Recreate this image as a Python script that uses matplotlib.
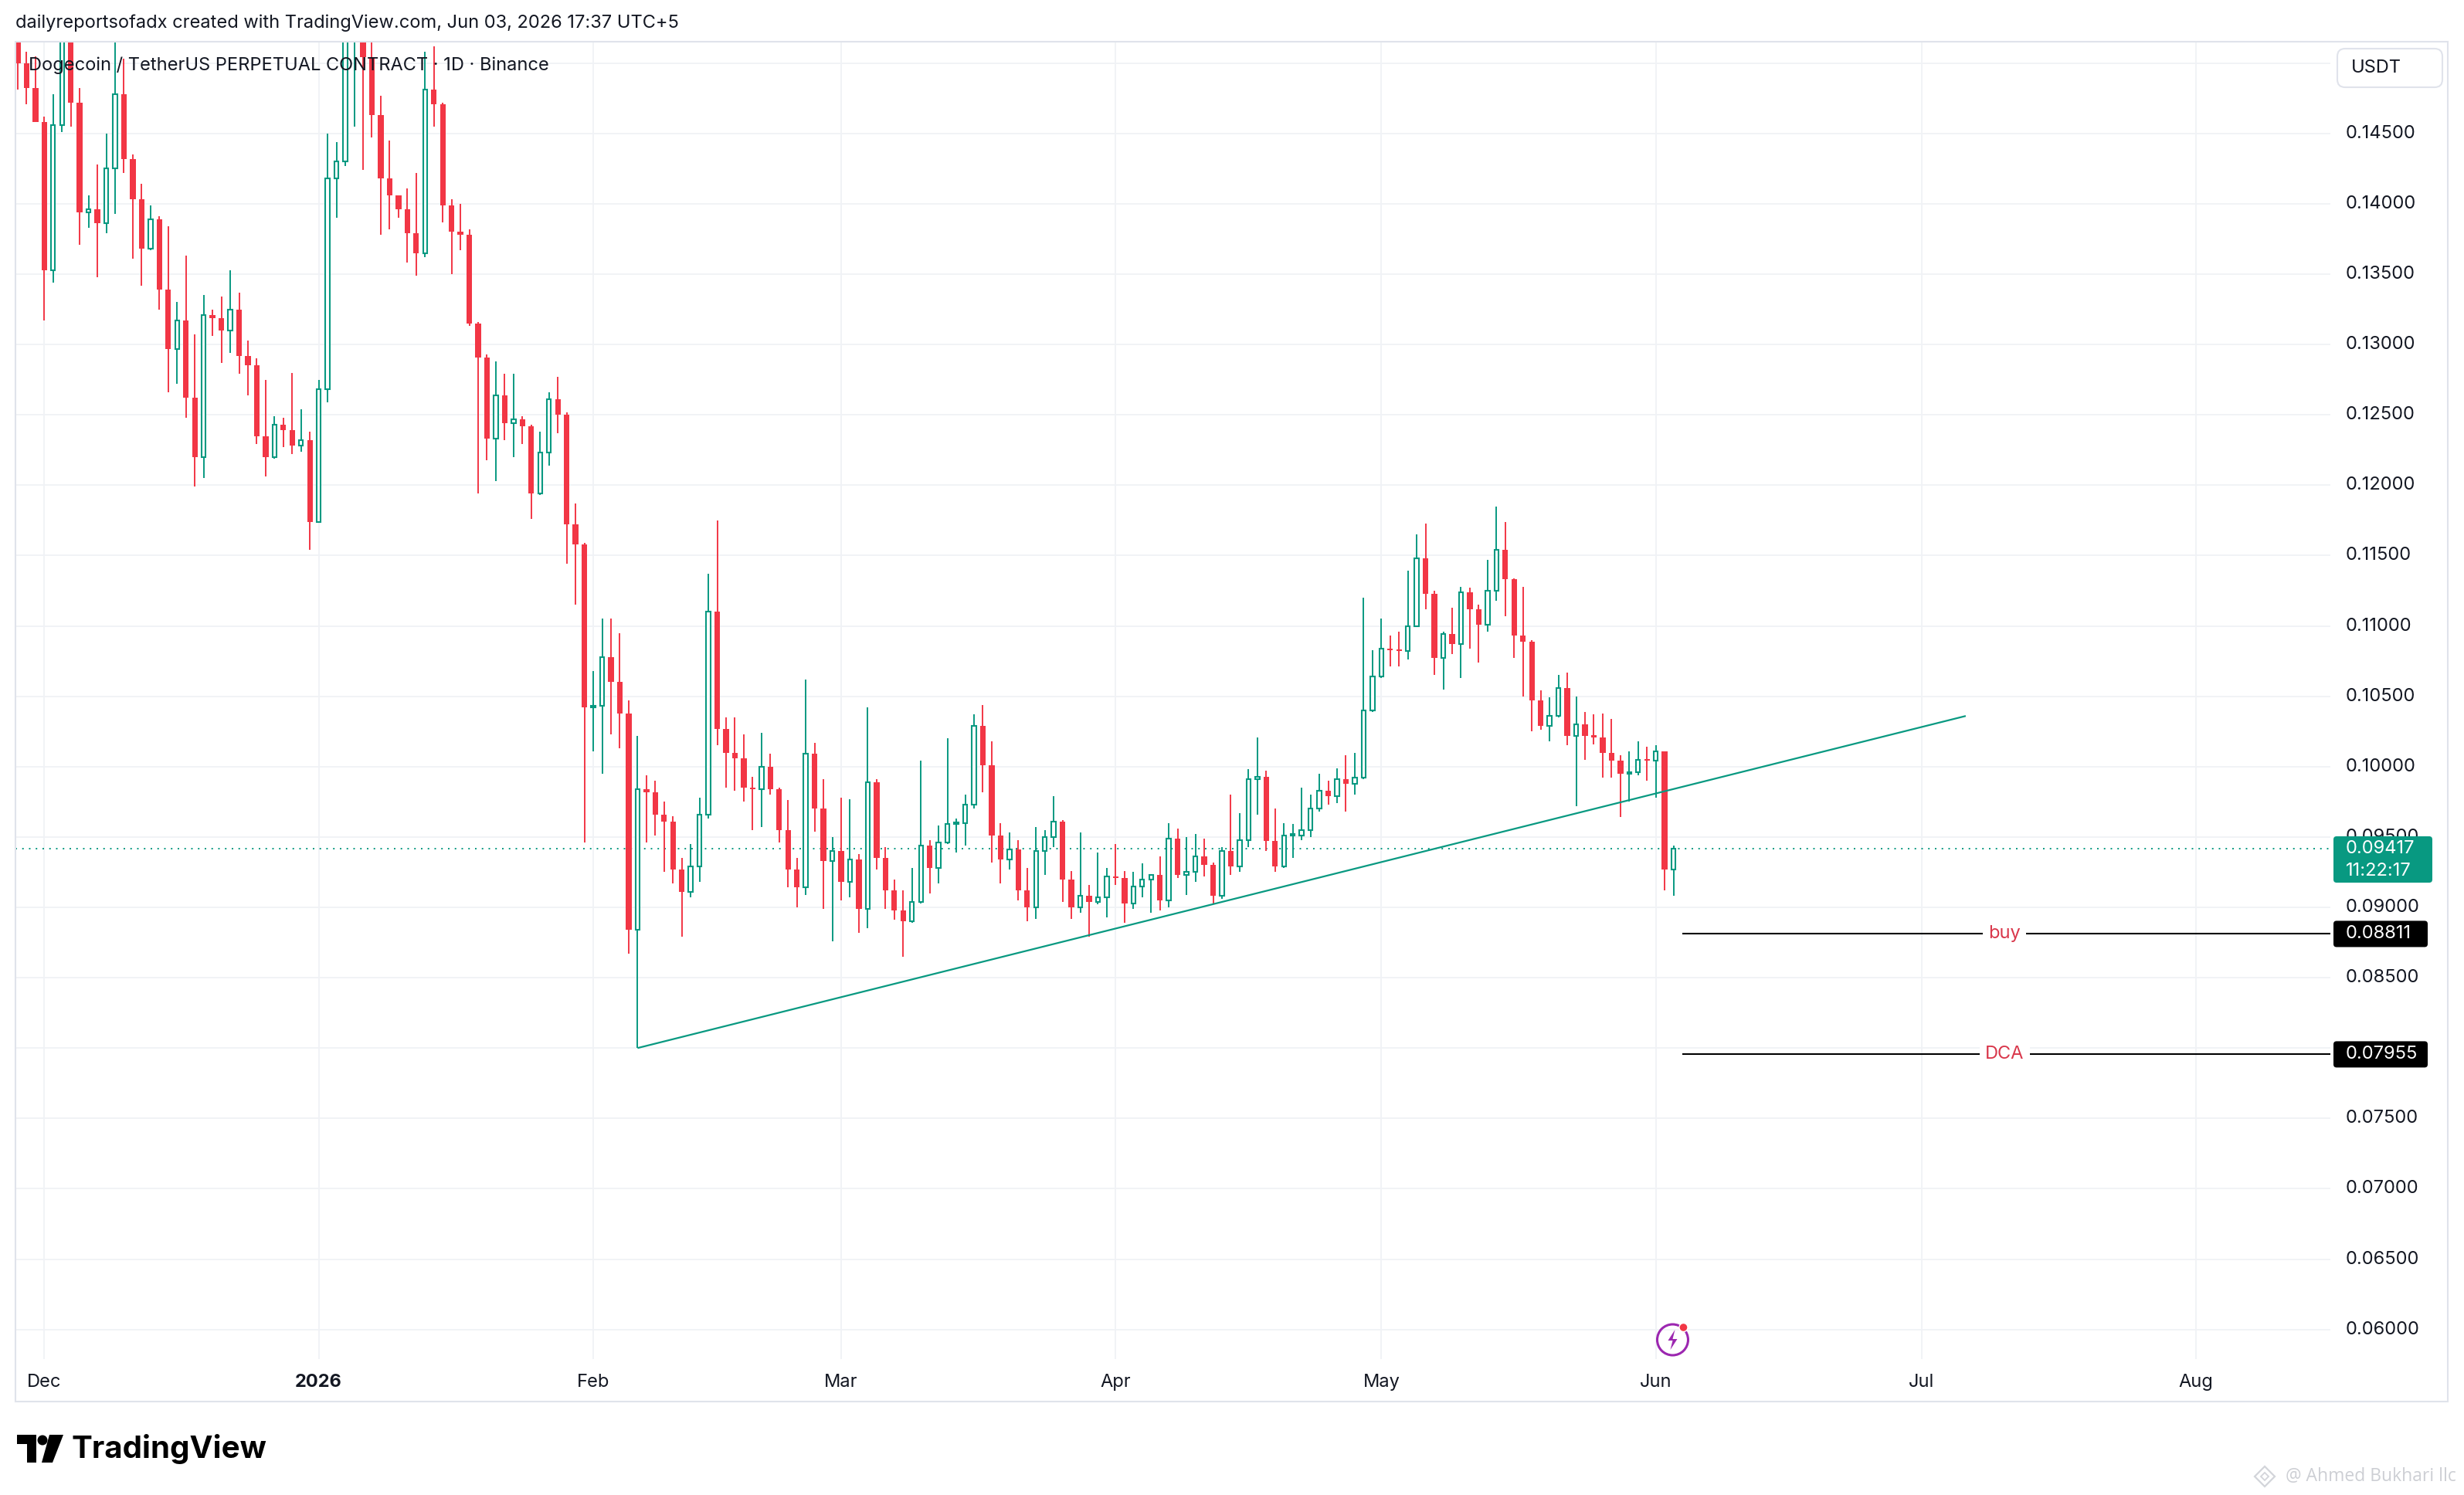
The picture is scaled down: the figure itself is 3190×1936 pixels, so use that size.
import numpy as np
import matplotlib
matplotlib.use("Agg")
import matplotlib.pyplot as plt
from matplotlib.patches import Rectangle, FancyBboxPatch, Polygon, Circle
from matplotlib.transforms import IdentityTransform, blended_transform_factory

plt.rcParams["font.family"] = ["Inter", "DejaVu Sans"]

W, H = 3190, 1936
GREEN = "#089981"
RED = "#f23645"
TXT = "#131722"
GRID = "#f0f2f6"

# daily candles (open, high, low, close), DOGE/USDT perp, 1D
nov = [
    (0.1530, 0.1550, 0.1481, 0.1500), (0.1500, 0.1508, 0.1471, 0.1482), (0.1482, 0.1505, 0.1458, 0.1458),
]
dec = [
    (0.1458, 0.1462, 0.1317, 0.1353), (0.1353, 0.1478, 0.1344, 0.1456), (0.1456, 0.1545, 0.1451, 0.1525),
    (0.1525, 0.1540, 0.1455, 0.1472), (0.1472, 0.1482, 0.1371, 0.1394), (0.1394, 0.1406, 0.1383, 0.1396),
    (0.1396, 0.1428, 0.1348, 0.1386), (0.1386, 0.1450, 0.1379, 0.1425), (0.1425, 0.1530, 0.1393, 0.1478),
    (0.1478, 0.1503, 0.1422, 0.1432), (0.1432, 0.1435, 0.1361, 0.1403), (0.1403, 0.1414, 0.1342, 0.1368),
    (0.1368, 0.1399, 0.1367, 0.1389), (0.1389, 0.1391, 0.1325, 0.1339), (0.1339, 0.1384, 0.1266, 0.1297),
    (0.1297, 0.1330, 0.1272, 0.1317), (0.1317, 0.1363, 0.1248, 0.1262), (0.1262, 0.1307, 0.1199, 0.1220),
    (0.1220, 0.1335, 0.1205, 0.1321), (0.1321, 0.1325, 0.1306, 0.1319), (0.1319, 0.1334, 0.1287, 0.1310),
    (0.1310, 0.1353, 0.1294, 0.1325), (0.1325, 0.1337, 0.1279, 0.1292), (0.1292, 0.1303, 0.1264, 0.1285),
    (0.1285, 0.1290, 0.1229, 0.1235), (0.1235, 0.1275, 0.1206, 0.1220), (0.1220, 0.1249, 0.1219, 0.1243),
    (0.1243, 0.1248, 0.1227, 0.1239), (0.1239, 0.1280, 0.1222, 0.1228), (0.1228, 0.1254, 0.1224, 0.1232),
    (0.1232, 0.1238, 0.1154, 0.1174),
]
jan = [
    (0.1174, 0.1275, 0.1174, 0.1268), (0.1268, 0.1450, 0.1259, 0.1418), (0.1418, 0.1444, 0.1390, 0.1430),
    (0.1430, 0.1545, 0.1427, 0.1525), (0.1525, 0.1575, 0.1455, 0.1555), (0.1555, 0.1565, 0.1424, 0.1504),
    (0.1504, 0.1520, 0.1447, 0.1463), (0.1463, 0.1477, 0.1378, 0.1418), (0.1418, 0.1445, 0.1382, 0.1406),
    (0.1406, 0.1406, 0.1390, 0.1396), (0.1396, 0.1411, 0.1358, 0.1379), (0.1379, 0.1422, 0.1349, 0.1365),
    (0.1365, 0.1508, 0.1362, 0.1481), (0.1481, 0.1512, 0.1455, 0.1471), (0.1471, 0.1472, 0.1387, 0.1399),
    (0.1399, 0.1403, 0.1350, 0.1380), (0.1380, 0.1400, 0.1367, 0.1378), (0.1378, 0.1382, 0.1313, 0.1315),
    (0.1315, 0.1316, 0.1194, 0.1291), (0.1291, 0.1293, 0.1218, 0.1233), (0.1233, 0.1288, 0.1203, 0.1264),
    (0.1264, 0.1279, 0.1232, 0.1244), (0.1244, 0.1279, 0.1220, 0.1247), (0.1247, 0.1249, 0.1229, 0.1242),
    (0.1242, 0.1243, 0.1176, 0.1194), (0.1194, 0.1238, 0.1193, 0.1223), (0.1223, 0.1266, 0.1214, 0.1261),
    (0.1261, 0.1277, 0.1237, 0.1250), (0.1250, 0.1252, 0.1144, 0.1172), (0.1172, 0.1187, 0.1115, 0.1158),
    (0.1158, 0.1159, 0.0946, 0.1042),
]
feb = [
    (0.1042, 0.1068, 0.1011, 0.1043), (0.1043, 0.1105, 0.0995, 0.1078), (0.1078, 0.1105, 0.1023, 0.1060),
    (0.1060, 0.1095, 0.1013, 0.1038), (0.1038, 0.1047, 0.0867, 0.0884), (0.0884, 0.1022, 0.0800, 0.0984),
    (0.0984, 0.0994, 0.0946, 0.0982), (0.0982, 0.0990, 0.0951, 0.0966), (0.0966, 0.0975, 0.0925, 0.0961),
    (0.0961, 0.0965, 0.0917, 0.0927), (0.0927, 0.0935, 0.0879, 0.0911), (0.0911, 0.0945, 0.0907, 0.0929),
    (0.0929, 0.0978, 0.0918, 0.0966), (0.0966, 0.1137, 0.0963, 0.1110), (0.1110, 0.1175, 0.1015, 0.1027),
    (0.1027, 0.1035, 0.0985, 0.1010), (0.1010, 0.1035, 0.0983, 0.1006), (0.1006, 0.1023, 0.0975, 0.0985),
    (0.0985, 0.0993, 0.0955, 0.0984), (0.0984, 0.1024, 0.0957, 0.1000), (0.1000, 0.1009, 0.0980, 0.0984),
    (0.0984, 0.0985, 0.0946, 0.0955), (0.0955, 0.0976, 0.0914, 0.0927), (0.0927, 0.0935, 0.0900, 0.0914),
    (0.0914, 0.1062, 0.0909, 0.1009), (0.1009, 0.1017, 0.0954, 0.0970), (0.0970, 0.0991, 0.0899, 0.0933),
    (0.0933, 0.0950, 0.0876, 0.0940),
]
mar = [
    (0.0940, 0.0978, 0.0905, 0.0918), (0.0918, 0.0977, 0.0907, 0.0934), (0.0934, 0.0938, 0.0882, 0.0899),
    (0.0899, 0.1042, 0.0885, 0.0989), (0.0989, 0.0991, 0.0927, 0.0935), (0.0935, 0.0943, 0.0899, 0.0912),
    (0.0912, 0.0920, 0.0891, 0.0898), (0.0898, 0.0912, 0.0865, 0.0890), (0.0890, 0.0928, 0.0889, 0.0904),
    (0.0904, 0.1004, 0.0903, 0.0944), (0.0944, 0.0948, 0.0910, 0.0928), (0.0928, 0.0958, 0.0917, 0.0946),
    (0.0946, 0.1020, 0.0945, 0.0959), (0.0959, 0.0963, 0.0939, 0.0960), (0.0960, 0.0980, 0.0944, 0.0973),
    (0.0973, 0.1037, 0.0970, 0.1029), (0.1029, 0.1044, 0.0982, 0.1001), (0.1001, 0.1018, 0.0932, 0.0951),
    (0.0951, 0.0960, 0.0917, 0.0934), (0.0934, 0.0953, 0.0927, 0.0941), (0.0941, 0.0948, 0.0905, 0.0912),
    (0.0912, 0.0928, 0.0890, 0.0900), (0.0900, 0.0957, 0.0892, 0.0940), (0.0940, 0.0955, 0.0923, 0.0950),
    (0.0950, 0.0979, 0.0943, 0.0961), (0.0961, 0.0962, 0.0904, 0.0920), (0.0920, 0.0926, 0.0892, 0.0900),
    (0.0900, 0.0953, 0.0896, 0.0908), (0.0908, 0.0916, 0.0879, 0.0904), (0.0904, 0.0939, 0.0902, 0.0907),
    (0.0907, 0.0928, 0.0893, 0.0922),
]
apr = [
    (0.0922, 0.0945, 0.0916, 0.0921), (0.0921, 0.0926, 0.0889, 0.0903), (0.0903, 0.0925, 0.0899, 0.0915),
    (0.0915, 0.0931, 0.0907, 0.0920), (0.0920, 0.0923, 0.0896, 0.0923), (0.0923, 0.0936, 0.0898, 0.0905),
    (0.0905, 0.0960, 0.0900, 0.0949), (0.0949, 0.0956, 0.0921, 0.0923), (0.0923, 0.0950, 0.0909, 0.0925),
    (0.0925, 0.0952, 0.0918, 0.0936), (0.0936, 0.0949, 0.0922, 0.0930), (0.0930, 0.0932, 0.0902, 0.0908),
    (0.0908, 0.0943, 0.0906, 0.0940), (0.0940, 0.0980, 0.0923, 0.0929), (0.0929, 0.0967, 0.0925, 0.0948),
    (0.0948, 0.0998, 0.0943, 0.0991), (0.0991, 0.1021, 0.0966, 0.0993), (0.0993, 0.0997, 0.0940, 0.0947),
    (0.0947, 0.0970, 0.0925, 0.0929), (0.0929, 0.0960, 0.0928, 0.0951), (0.0951, 0.0959, 0.0935, 0.0951),
    (0.0951, 0.0985, 0.0948, 0.0955), (0.0955, 0.0980, 0.0950, 0.0970), (0.0970, 0.0995, 0.0968, 0.0983),
    (0.0983, 0.0990, 0.0973, 0.0979), (0.0979, 0.0999, 0.0974, 0.0991), (0.0991, 0.1008, 0.0968, 0.0988),
    (0.0988, 0.1010, 0.0980, 0.0992), (0.0992, 0.1120, 0.0991, 0.1040), (0.1040, 0.1083, 0.1039, 0.1064),
]
may = [
    (0.1064, 0.1105, 0.1063, 0.1084), (0.1084, 0.1093, 0.1071, 0.1083), (0.1083, 0.1096, 0.1071, 0.1082),
    (0.1082, 0.1139, 0.1076, 0.1100), (0.1100, 0.1165, 0.1099, 0.1148), (0.1148, 0.1173, 0.1112, 0.1123),
    (0.1123, 0.1125, 0.1065, 0.1077), (0.1077, 0.1096, 0.1055, 0.1094), (0.1094, 0.1113, 0.1080, 0.1087),
    (0.1087, 0.1128, 0.1063, 0.1124), (0.1124, 0.1127, 0.1084, 0.1112), (0.1112, 0.1115, 0.1074, 0.1101),
    (0.1101, 0.1147, 0.1096, 0.1125), (0.1125, 0.1185, 0.1118, 0.1154), (0.1154, 0.1174, 0.1107, 0.1133),
    (0.1133, 0.1134, 0.1077, 0.1093), (0.1093, 0.1128, 0.1050, 0.1089), (0.1089, 0.1090, 0.1025, 0.1047),
    (0.1047, 0.1054, 0.1026, 0.1029), (0.1029, 0.1049, 0.1018, 0.1036), (0.1036, 0.1065, 0.1035, 0.1056),
    (0.1056, 0.1067, 0.1015, 0.1022), (0.1022, 0.1050, 0.0972, 0.1030), (0.1030, 0.1039, 0.1005, 0.1022),
    (0.1022, 0.1037, 0.1016, 0.1021), (0.1021, 0.1038, 0.0992, 0.1010), (0.1010, 0.1034, 0.0992, 0.1004),
    (0.1004, 0.1008, 0.0964, 0.0995), (0.0995, 0.1011, 0.0975, 0.0996), (0.0996, 0.1018, 0.0994, 0.1005),
    (0.1005, 0.1014, 0.0990, 0.1004),
]
jun = [
    (0.1004, 0.1015, 0.0978, 0.1011), (0.1011, 0.1011, 0.0912, 0.0927), (0.0927, 0.0944, 0.0908, 0.09417),
]
first_day = "2025-11-28"

# drawings / levels
trend_start = ("2026-02-06", 0.0800)
trend_end = ("2026-07-06", 0.1036)
last_price = 0.09417
countdown = "11:22:17"
levels = [("buy", 0.08811), ("DCA", 0.07955)]
level_start = "2026-06-04"
level_label_day = "2026-07-10"

month_starts = ["2025-12-01", "2026-01-01", "2026-02-01", "2026-03-01", "2026-04-01",
                "2026-05-01", "2026-06-01", "2026-07-01", "2026-08-01"]
month_labels = ["Dec", "2026", "Feb", "Mar", "Apr", "May", "Jun", "Jul", "Aug"]
price_ticks = [round(p, 3) for p in np.arange(0.060, 0.1451, 0.005)]
hidden_ticks = [0.080]  # sits under the DCA badge

origin = np.datetime64("2025-12-01")


def day(s):
    return int((np.datetime64(s) - origin).astype(int))


ohlc = np.array(nov + dec + jan + feb + mar + apr + may + jun)
o, h, l, c = ohlc.T
x = np.arange(len(ohlc)) + day(first_day)

# ---- figure / axes geometry (pixels of the 3190x1936 picture)
fig = plt.figure(figsize=(W / 100, H / 100), dpi=100)
PL, PR, PT, PB = 20, 3017, 54, 1760
ax = fig.add_axes([PL / W, 1 - PB / H, (PR - PL) / W, (PB - PT) / H])
ax.set_xlim(-3.254, 258.18)
ax.set_ylim(0.057894, 0.15152)
ax.set_axis_off()

# grid
for m in month_starts:
    ax.axvline(day(m), color=GRID, lw=1.3, zorder=0)
for p in np.arange(0.060, 0.1501, 0.005):
    ax.axhline(p, color=GRID, lw=1.3, zorder=0)

# candles
up = c >= o
blo = np.minimum(o, c)
bhi = np.maximum(o, c)
bh = np.maximum(bhi - blo, 0.00011)
dn = ~up
ax.vlines(x[dn], l[dn], h[dn], color=RED, lw=1.4, zorder=2)
ax.bar(x[dn], bh[dn], bottom=blo[dn], width=0.64, color=RED, lw=0, zorder=3)
ax.vlines(x[up], bhi[up], h[up], color=GREEN, lw=1.4, zorder=2)
ax.vlines(x[up], l[up], blo[up], color=GREEN, lw=1.4, zorder=2)
ax.bar(x[up], bh[up], bottom=blo[up], width=0.47, facecolor="white",
       edgecolor=GREEN, lw=1.5, zorder=3)

# trend line
ax.plot([day(trend_start[0]), day(trend_end[0])], [trend_start[1], trend_end[1]],
        color=GREEN, lw=1.6, zorder=4, solid_capstyle="butt")

# last price dotted line
ax.axhline(last_price, color=GREEN, lw=1.4, linestyle=(0, (1, 3.5)), zorder=1)

# buy / DCA levels
for name, p in levels:
    ax.hlines(p, day(level_start), ax.get_xlim()[1], color="black", lw=1.5, zorder=4)
    ax.text(day(level_label_day) + 0.4, p, name, color="#d9374b", fontsize=17, ha="center", va="center",
            zorder=5, bbox=dict(boxstyle="square,pad=0.3", fc="white", ec="none"))

# price scale labels
ytr = blended_transform_factory(ax.transAxes, ax.transData)
for p in price_ticks:
    if p in hidden_ticks:
        continue
    ax.text(1 + 20 / (PR - PL), p, f"{p:.5f}", transform=ytr, ha="left", va="center",
            fontsize=17, color=TXT, clip_on=False)

# time scale labels
xtr = blended_transform_factory(ax.transData, ax.transAxes)
for m, lab in zip(month_starts, month_labels):
    ax.text(day(m), -(1790 - PB) / (PB - PT), lab, transform=xtr, ha="center", va="center",
            fontsize=17, color=TXT, fontweight="bold" if lab == "2026" else "normal", clip_on=False)

ID = IdentityTransform()


def ypix(p):
    return ax.transData.transform((0, p))[1]


def fy(py):
    return H - py


# outer chart frame
fig.add_artist(Rectangle((20, fy(1815)), 3169 - 20, 1815 - 54, transform=ID, fill=False,
                         ec="#e0e3eb", lw=1.5, zorder=1))

# price axis badges
yc = ypix(last_price)
fig.add_artist(FancyBboxPatch((3021, yc - 44), 128, 60, boxstyle="round,pad=0,rounding_size=4",
                              fc=GREEN, ec="none", transform=ID, zorder=6))
fig.text(3037, yc, f"{last_price:.5f}", transform=ID, color="white", fontsize=17, va="center", zorder=7)
fig.text(3037, yc - 29, countdown, transform=ID, color="white", fontsize=17, va="center", zorder=7)
for name, p in levels:
    yy = ypix(p)
    fig.add_artist(FancyBboxPatch((3021, yy - 17), 122, 34, boxstyle="round,pad=0,rounding_size=4",
                                  fc="black", ec="none", transform=ID, zorder=6))
    fig.text(3037, yy, f"{p:.5f}", transform=ID, color="white", fontsize=17, va="center", zorder=7)

# currency box
fig.add_artist(FancyBboxPatch((3026, fy(113)), 136, 50, boxstyle="round,pad=0,rounding_size=10",
                              fc="white", ec="#e0e3eb", lw=1.5, transform=ID, zorder=6))
fig.text(3044, fy(88), "USDT", transform=ID, color=TXT, fontsize=17, va="center", zorder=7)

# header and legend
fig.text(20, fy(30), "dailyreportsofadx created with TradingView.com, Jun 03, 2026 17:37 UTC+5",
         transform=ID, color=TXT, fontsize=17, va="center")
fig.text(37, fy(85), "Dogecoin / TetherUS PERPETUAL CONTRACT \u00b7 1D \u00b7 Binance",
         transform=ID, color=TXT, fontsize=17, va="center", zorder=8)

# events icon under the last candle
ex = ax.transData.transform((x[-1] - 0.1, 0))[0]
ey = fy(1735)
fig.add_artist(Circle((ex, ey), 20, transform=ID, fill=False, ec="#9c27b0", lw=2.2, zorder=6))
bolt = np.array([(3, 13), (-6, -1), (0, -1), (-3, -13), (6, 1), (0, 1)], dtype=float)
fig.add_artist(Polygon(bolt + [ex, ey], closed=True, transform=ID, fc="#9c27b0", ec="none", zorder=7))
fig.add_artist(Circle((ex + 14, ey + 16), 5.5, transform=ID, fc=RED, ec="white", lw=1, zorder=8))

# TradingView logo
fig.add_artist(Polygon([(22, fy(1858)), (47, fy(1858)), (47, fy(1894)), (35, fy(1894)), (35, fy(1870)),
                        (22, fy(1870))], closed=True, transform=ID, fc="black", ec="none"))
fig.add_artist(Circle((55, fy(1865)), 6.5, transform=ID, fc="black", ec="none"))
fig.add_artist(Polygon([(64, fy(1858)), (82, fy(1858)), (68, fy(1894)), (54, fy(1894))],
                       closed=True, transform=ID, fc="black", ec="none"))
fig.text(92, fy(1876), "TradingView", transform=ID, color="black", fontsize=29, fontweight="bold",
         va="center")

# watermark with small logo mark
wx, wy = 2932, fy(1912)
fig.add_artist(Polygon([(wx - 13, wy), (wx, wy + 13), (wx + 13, wy), (wx, wy - 13)], closed=True,
                       transform=ID, fill=False, ec="#d3d5da", lw=1.6))
fig.add_artist(Polygon([(wx - 5, wy), (wx, wy + 5), (wx + 5, wy), (wx, wy - 5)], closed=True,
                       transform=ID, fill=False, ec="#d3d5da", lw=1.3))
fig.text(3180, wy, "@ Ahmed Bukhari llc", transform=ID, color="#cdcfd4", fontsize=16.5,
         ha="right", va="center", family=["Open Sans", "DejaVu Sans"])

fig.savefig("out.png", dpi=100, facecolor="white")
